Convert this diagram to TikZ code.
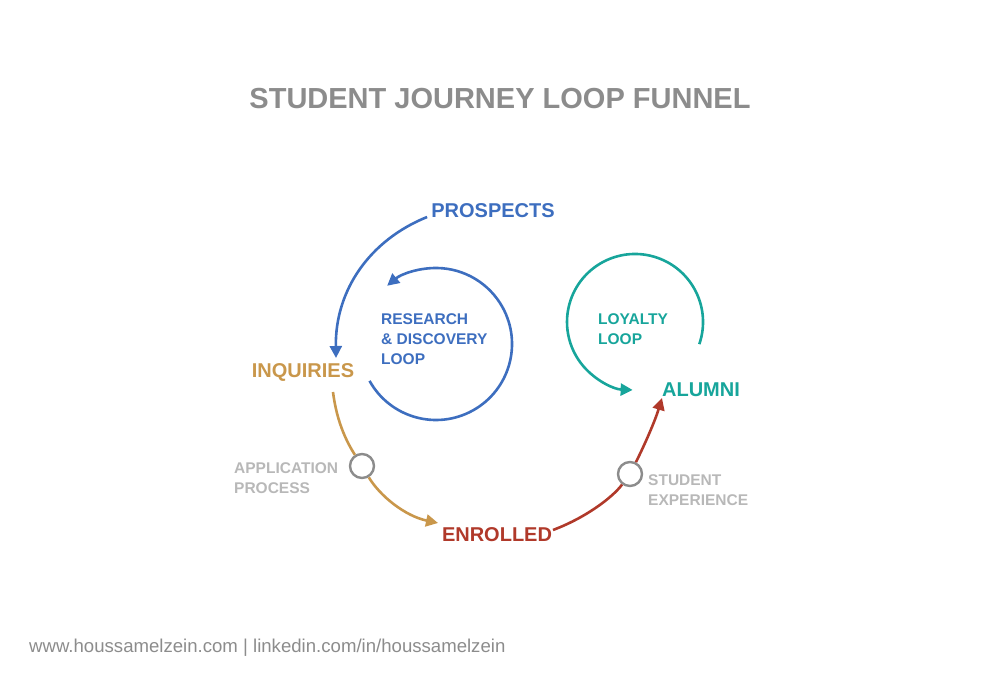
\documentclass[tikz,border=0pt]{standalone}
\usepackage{fontspec}
\setmainfont{Liberation Sans}
\usetikzlibrary{arrows.meta}
\definecolor{tgray}{HTML}{8C8C8C}
\definecolor{lgray}{HTML}{B8B8B8}
\definecolor{cblue}{HTML}{3D6EBF}
\definecolor{corange}{HTML}{C9974B}
\definecolor{cred}{HTML}{B0392A}
\definecolor{cteal}{HTML}{17A59B}
\tikzset{
  lbl/.style={font=\bfseries\fontsize{20}{22}\selectfont, inner sep=0pt},
  sm/.style={font=\bfseries\fontsize{15.5}{20}\selectfont, align=left, inner sep=0pt, text=lgray},
  inl/.style={font=\bfseries\fontsize{15.5}{20}\selectfont, align=left, inner sep=0pt},
  con/.style={line width=2.6pt, -{Triangle[length=12pt,width=12pt]}},
  ring/.style={circle, draw=tgray, fill=white, line width=2.4pt, minimum size=24pt, inner sep=0pt}
}
\begin{document}
\begin{tikzpicture}[x=1pt,y=1pt]
\useasboundingbox (0,0) rectangle (1000,676);
\node[font=\bfseries\fontsize{29}{32}\selectfont, text=tgray] (title) at (500,577) {STUDENT JOURNEY LOOP FUNNEL};
\node[lbl, text=cblue] (pro) at (493,465) {PROSPECTS};
\node[lbl, text=corange] (inq) at (303,304) {INQUIRIES};
\node[lbl, text=cred] (enr) at (497,141) {ENROLLED};
\node[lbl, text=cteal] (alu) at (701,286) {ALUMNI};
\node[inl, text=cblue, anchor=west] (rd) at (381,337) {RESEARCH\\\& DISCOVERY\\LOOP};
\node[inl, text=cteal, anchor=west] (ll) at (598,347) {LOYALTY\\LOOP};
\node[ring] (r1) at (362,210) {};
\node[ring] (r2) at (630,202) {};
\node[sm, anchor=west] (ap) at (234,198) {APPLICATION\\PROCESS};
\node[sm, anchor=west] (se) at (648,186) {STUDENT\\EXPERIENCE};
\node[font=\fontsize{18.6}{20}\selectfont, text=tgray, anchor=west, inner sep=0pt] (ft) at (29,28) {www.houssamelzein.com | linkedin.com/in/houssamelzein};
% blue loop
\draw[con, cblue] (436,332) ++(209:76) arc[start angle=209, end angle=490, radius=76];
\draw[con, cblue] (pro.west) ++(-4,-6) .. controls (370,436) and (335,386) .. (336,318);
% teal loop
\draw[con, cteal] (635,354) ++(-19:68) arc[start angle=-19, end angle=268, radius=68];
% orange
\draw[line width=2.6pt, corange] (333,284) .. controls (337,252) and (348,232) .. (r1);
\draw[con, corange] (r1) .. controls (380,180) and (405,160) .. (438,153);
% red
\draw[line width=2.6pt, cred] (553,146) .. controls (585,158) and (612,178) .. (r2);
\draw[con, cred] (r2) .. controls (645,232) and (655,255) .. (662,278);
\end{tikzpicture}
\end{document}
